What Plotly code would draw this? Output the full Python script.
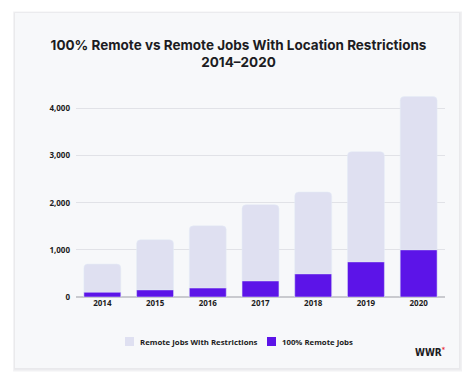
import plotly.graph_objects as go

years = ["2014", "2015", "2016", "2017", "2018", "2019", "2020"]
# Height of the light bars (drawn from zero, behind)
restricted_jobs = [700, 1215, 1510, 1960, 2230, 3085, 4255]
# Height of the purple bars
full_remote_jobs = [100, 150, 190, 340, 490, 745, 1000]

y_ticks = [0, 1000, 2000, 3000, 4000]
y_tick_labels = ["0", "1,000", "2,000", "3,000", "4,000"]
series_names = ["Remote Jobs With Restrictions", "100% Remote Jobs"]

LIGHT = "#dfe0f1"
PURPLE = "#5c14e8"
TXT = "#1c1c22"

# page offset (browser body margin) and plot area in page pixels
OFF = 8
PL, PR, PT, PB = 76, 445, 85, 297
W, H = 474 - OFF, 384 - OFF


def px(x):
    return (x - PL) / (PR - PL)


def py(y):
    return (PB - y) / (PB - PT)


fig = go.Figure()
fig.add_trace(go.Bar(x=years, y=restricted_jobs, name=series_names[0],
                     marker_color=LIGHT, width=0.7, hoverinfo="skip"))
fig.add_trace(go.Bar(x=years, y=full_remote_jobs, name=series_names[1],
                     marker_color=PURPLE, width=0.7, hoverinfo="skip"))

# card shadow + card
for grow, col in [(3, "#f1f1f3"), (1.5, "#e9e9ec")]:
    fig.add_shape(type="rect", xref="paper", yref="paper",
                  x0=px(15 - grow * 0.6), x1=px(459 + grow), y0=py(368 + grow * 1.2), y1=py(13 - grow * 0.5),
                  fillcolor=col, line_width=0, layer="below")
fig.add_shape(type="rect", xref="paper", yref="paper", x0=px(15), x1=px(459), y0=py(368), y1=py(13),
              fillcolor="#f7f8fa", line_width=0, layer="below")

# legend (manual, to match swatch geometry)
legend_font = dict(family="Open Sans", size=7.8, color=TXT, weight="bold")
for (sx0, sx1, tx), col, name in [((125, 134, 138), LIGHT, series_names[0]),
                                  ((267, 276, 279.5), PURPLE, series_names[1])]:
    fig.add_shape(type="rect", xref="paper", yref="paper", x0=px(sx0), x1=px(sx1),
                  y0=py(346), y1=py(337), fillcolor=col, line_width=0)
    fig.add_annotation(xref="paper", yref="paper", x=px(tx), y=py(341.5), xanchor="left", yanchor="middle",
                       text=name, showarrow=False, font=legend_font)

fig.add_annotation(xref="paper", yref="paper", x=px(448), y=py(352), xanchor="right", yanchor="middle",
                   text="WWR<span style='color:#e8333a'><sup>*</sup></span>", showarrow=False,
                   font=dict(family="DejaVu Sans Condensed, Roboto, sans-serif", size=10, color=TXT, weight="bold"))

tick_font = dict(family="Open Sans", size=8, color=TXT, weight="bold")
fig.update_layout(
    width=W, height=H,
    barmode="overlay",
    barcornerradius=4,
    showlegend=False,
    paper_bgcolor="white",
    plot_bgcolor="rgba(0,0,0,0)",
    margin=dict(l=PL - OFF, r=W - (PR - OFF), t=PT - OFF, b=H - (PB - OFF)),
    title=dict(text="100% Remote vs Remote Jobs With Location Restrictions<br>2014–2020",
               x=(238.5 - OFF) / W, xref="container", xanchor="center",
               y=1 - 41.5 / H, yref="container", yanchor="middle",
               font=dict(family="Inter", size=13.5, color=TXT, weight="bold")),
    xaxis=dict(showgrid=False, ticks="", tickfont=tick_font, range=[-0.5, 6.5], fixedrange=True),
    yaxis=dict(range=[0, 4500], tickvals=y_ticks, ticktext=y_tick_labels,
               showgrid=True, gridcolor="#e1e2e7", gridwidth=1,
               zeroline=True, zerolinecolor="#c9cacf", zerolinewidth=1.5,
               tickfont=tick_font, ticklabelstandoff=5, fixedrange=True),
)

fig.write_html("out.html")
